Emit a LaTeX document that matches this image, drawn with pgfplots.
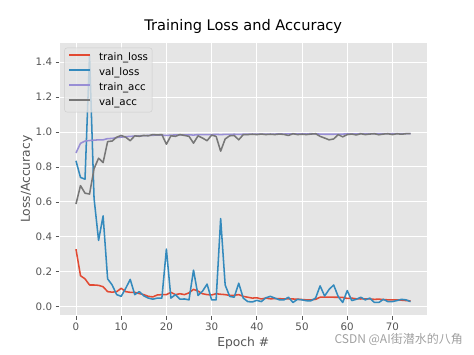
\documentclass[border=0pt]{standalone}
\usepackage{fontspec}
\setmainfont{DejaVu Sans}
\newfontfamily\cjk{Noto Sans CJK SC}
\usepackage{pgfplots}
\pgfplotsset{compat=1.18}
\definecolor{cred}{HTML}{E24A33}
\definecolor{cblue}{HTML}{348ABD}
\definecolor{cpurple}{HTML}{988ED5}
\definecolor{cgray}{HTML}{777777}
\definecolor{bggray}{HTML}{E5E5E5}
\definecolor{tickgray}{HTML}{555555}
\definecolor{legedge}{HTML}{CCCCCC}
\definecolor{wmark}{HTML}{A0A0A0}

\pgfplotstableread{
e trainloss valloss trainacc valacc
0 0.330 0.835 0.880 0.588
1 0.178 0.740 0.935 0.693
2 0.160 0.730 0.948 0.650
3 0.125 1.440 0.951 0.645
4 0.125 0.620 0.953 0.790
5 0.123 0.380 0.955 0.850
6 0.115 0.520 0.955 0.825
7 0.087 0.160 0.962 0.945
8 0.084 0.125 0.963 0.948
9 0.087 0.070 0.968 0.970
10 0.106 0.060 0.970 0.980
11 0.087 0.106 0.973 0.970
12 0.083 0.157 0.975 0.950
13 0.083 0.070 0.976 0.978
14 0.076 0.087 0.978 0.975
15 0.070 0.063 0.979 0.980
16 0.060 0.050 0.980 0.978
17 0.057 0.044 0.981 0.985
18 0.068 0.050 0.982 0.983
19 0.070 0.050 0.982 0.985
20 0.070 0.330 0.980 0.930
21 0.083 0.050 0.982 0.978
22 0.070 0.070 0.983 0.975
23 0.075 0.044 0.984 0.985
24 0.070 0.045 0.983 0.980
25 0.080 0.040 0.984 0.975
26 0.100 0.210 0.982 0.936
27 0.090 0.065 0.985 0.978
28 0.075 0.090 0.985 0.965
29 0.070 0.130 0.985 0.950
30 0.068 0.040 0.985 0.982
31 0.075 0.040 0.986 0.975
32 0.072 0.505 0.985 0.890
33 0.070 0.125 0.986 0.960
34 0.065 0.060 0.986 0.978
35 0.066 0.055 0.987 0.980
36 0.070 0.135 0.986 0.955
37 0.060 0.050 0.987 0.985
38 0.055 0.030 0.987 0.985
39 0.050 0.028 0.988 0.987
40 0.052 0.037 0.987 0.985
41 0.045 0.030 0.988 0.988
42 0.050 0.052 0.988 0.985
43 0.046 0.060 0.988 0.987
44 0.047 0.050 0.988 0.985
45 0.047 0.040 0.989 0.988
46 0.045 0.040 0.988 0.986
47 0.046 0.055 0.989 0.980
48 0.045 0.025 0.989 0.990
49 0.044 0.043 0.989 0.985
50 0.042 0.040 0.989 0.987
51 0.040 0.035 0.989 0.985
52 0.040 0.035 0.990 0.988
53 0.043 0.050 0.989 0.990
54 0.055 0.120 0.988 0.975
55 0.056 0.062 0.987 0.965
56 0.056 0.100 0.987 0.955
57 0.055 0.125 0.987 0.960
58 0.055 0.059 0.988 0.985
59 0.054 0.025 0.988 0.972
60 0.048 0.093 0.989 0.985
61 0.050 0.036 0.989 0.988
62 0.046 0.043 0.989 0.983
63 0.045 0.055 0.990 0.990
64 0.046 0.040 0.990 0.985
65 0.045 0.050 0.990 0.988
66 0.043 0.025 0.990 0.990
67 0.044 0.025 0.990 0.984
68 0.042 0.043 0.990 0.988
69 0.040 0.030 0.991 0.990
70 0.040 0.030 0.991 0.985
71 0.040 0.036 0.991 0.990
72 0.038 0.043 0.991 0.987
73 0.036 0.040 0.991 0.990
74 0.034 0.030 0.991 0.990
}\datatable

\pgfplotsset{
  mylegline/.style={legend image code/.code={\draw[##1, line width=1.6pt] (0pt,2.7pt) -- (20.6pt,2.7pt);}},
}

\begin{document}
\begin{tikzpicture}
\path[use as bounding box] (-59.25pt,-39.05pt) rectangle (414.75pt,315.95pt);
\begin{axis}[
  at={(0pt,0pt)}, anchor=south west,
  scale only axis, width=368pt, height=273.35pt,
  xmin=-3.7, xmax=77.7, ymin=-0.052, ymax=1.511,
  axis background/.style={fill=bggray},
  axis line style={white, line width=1pt},
  grid=major, major grid style={white, line width=0.9pt},
  xtick={0,10,20,30,40,50,60,70},
  ytick={0,0.2,0.4,0.6,0.8,1.0,1.2,1.4},
  tick align=outside, tick pos=left,
  major tick length=3.6pt,
  tick style={color=tickgray, line width=0.8pt},
  /pgf/number format/assume math mode=true,
  ticklabel style={font=\fontsize{10.3}{12}\selectfont, text=tickgray},
  yticklabel style={/pgf/number format/.cd, fixed, fixed zerofill, precision=1},
  xticklabel style={/pgf/number format/.cd, fixed, precision=0},
  title={Training Loss and Accuracy},
  title style={font=\fontsize{14.6}{17}\selectfont, at={(axis description cs:0.5,1.0227)}, anchor=base, inner sep=0pt},
  xlabel={Epoch \#},
  xlabel style={font=\fontsize{12.3}{14}\selectfont, text=tickgray, at={(axis description cs:0.5,-0.1134)}, anchor=base, inner sep=0pt},
  ylabel={Loss/Accuracy},
  ylabel style={font=\fontsize{12.3}{14}\selectfont, text=tickgray, at={(axis description cs:-0.0800,0.5)}, anchor=base, inner sep=0pt},
  legend cell align=left,
  legend style={at={(axis description cs:0.0139,0.9813)}, anchor=north west,
    fill=bggray, fill opacity=0.8, text opacity=1, draw=legedge,
    rounded corners=2.5pt,
    font=\fontsize{10.3}{12}\selectfont,
    inner xsep=4.1pt, inner ysep=4.6pt, row sep=5pt, column sep=8.2pt,
    nodes={inner sep=0pt, text height=7.8pt, text depth=2.2pt}},
  legend image post style={line width=1.6pt},
  every axis plot/.append style={line width=1.54pt, line join=round},
]
\addplot[cred, no markers, mylegline] table[x=e, y=trainloss] {\datatable};
\addlegendentry{train\_loss}
\addplot[cblue, no markers, mylegline] table[x=e, y=valloss] {\datatable};
\addlegendentry{val\_loss}
\addplot[cpurple, no markers, mylegline] table[x=e, y=trainacc] {\datatable};
\addlegendentry{train\_acc}
\addplot[cgray, no markers, mylegline] table[x=e, y=valacc] {\datatable};
\addlegendentry{val\_acc}
\end{axis}
\node[anchor=east, text=wmark, font=\fontsize{12}{14}\selectfont, inner sep=0pt] at (403.75pt,-24pt) {{\cjk CSDN @AI街潜水的八角}};
\end{tikzpicture}
\end{document}
